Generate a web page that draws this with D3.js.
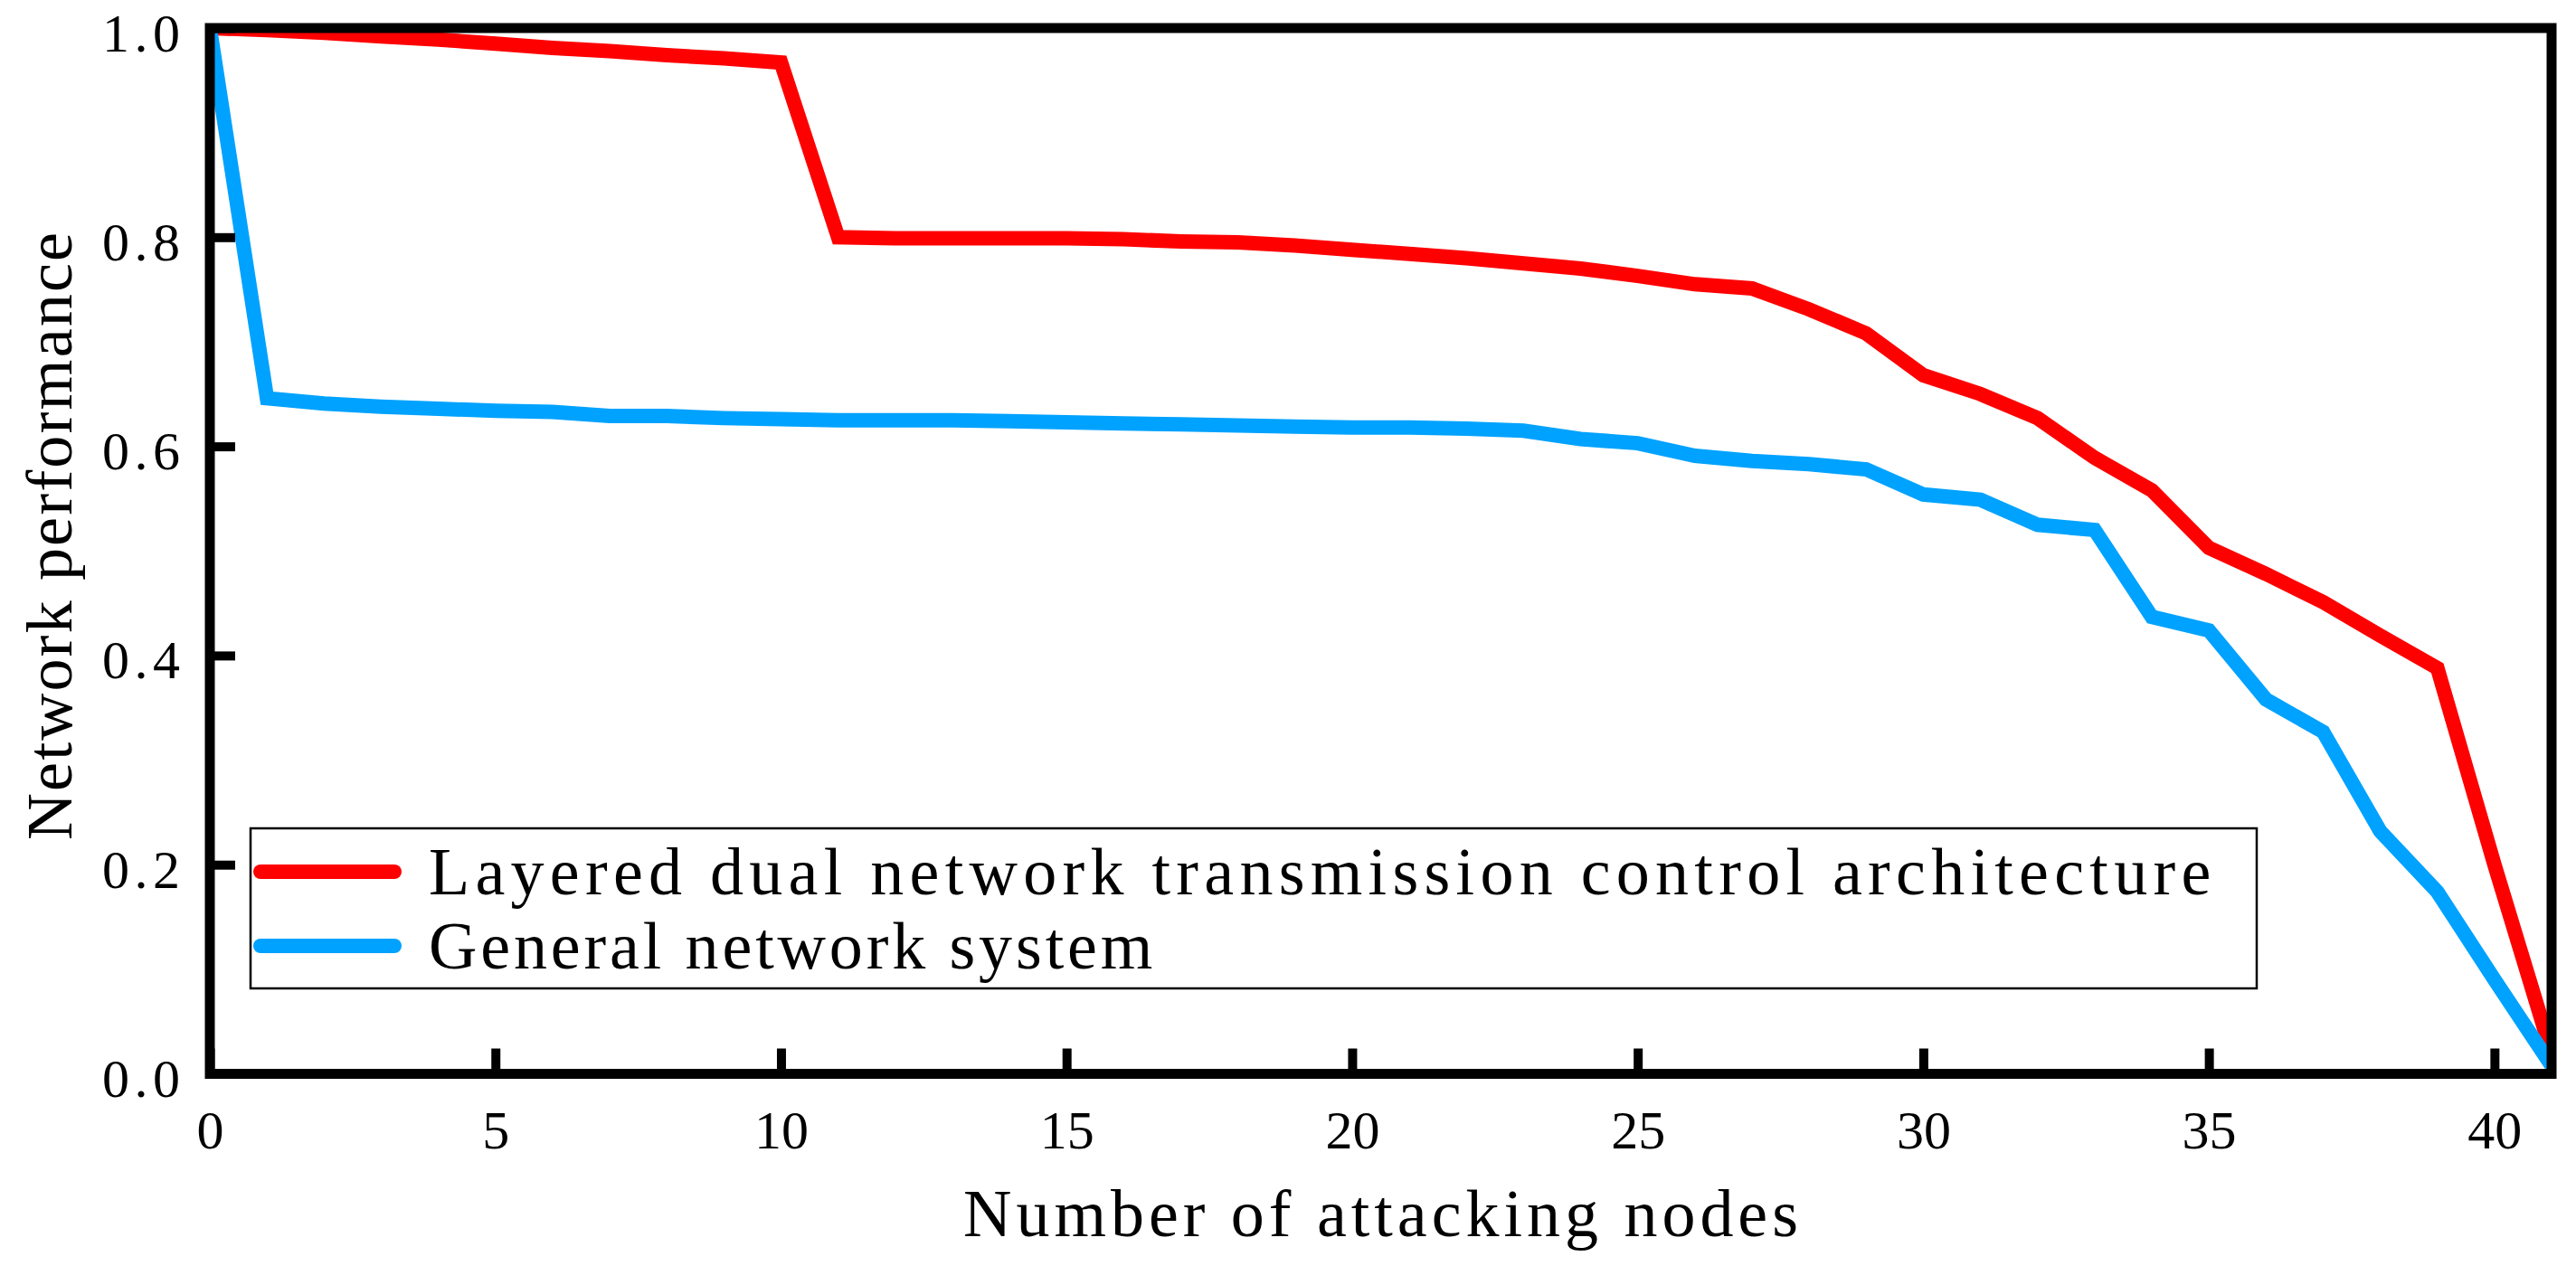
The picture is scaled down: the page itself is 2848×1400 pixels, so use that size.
<!DOCTYPE html>
<html>
<head>
<meta charset="utf-8">
<script src="https://cdn.jsdelivr.net/npm/d3@7"></script>
<style>
  body { margin: 0; background: #fff; }
  text { font-family: "Liberation Serif", "Times New Roman", serif; fill: #000; }
</style>
</head>
<body>
<div id="graf"></div>
<script>
// Datos
const nodos = d3.range(0, 42)
const layered = [1.0, 0.998, 0.9955, 0.992, 0.989, 0.985, 0.981, 0.978, 0.974, 0.971, 0.967,
  0.800, 0.799, 0.799, 0.799, 0.799, 0.798, 0.796, 0.795, 0.792, 0.788,
  0.784, 0.780, 0.775, 0.770, 0.763, 0.755, 0.751, 0.731, 0.708, 0.668,
  0.650, 0.627, 0.589, 0.558, 0.503, 0.478, 0.451, 0.419, 0.388, 0.200, 0.02]
const general = [1.0, 0.646, 0.641, 0.638, 0.636, 0.634, 0.633, 0.629, 0.629, 0.627, 0.626,
  0.625, 0.625, 0.625, 0.624, 0.623, 0.622, 0.621, 0.620, 0.619, 0.618,
  0.618, 0.617, 0.615, 0.607, 0.603, 0.591, 0.586, 0.583, 0.578, 0.554,
  0.549, 0.525, 0.520, 0.437, 0.424, 0.358, 0.327, 0.232, 0.174, 0.090, 0.008]
const series = [
  { nombre: "Layered dual network transmission control architecture", valores: layered, color: "#ff0000" },
  { nombre: "General network system", valores: general, color: "#00a2ff" },
]
const xTicks = [0, 5, 10, 15, 20, 25, 30, 35, 40]
const yTicks = [0, 0.2, 0.4, 0.6, 0.8, 1.0]

// Dimensiones
const anchoTotal = 2848
const altoTotal = 1400
const margins = { top: 31, right: 27, bottom: 212.5, left: 232 }
const ancho = anchoTotal - margins.left - margins.right
const alto = altoTotal - margins.top - margins.bottom

const svg = d3
  .select("#graf")
  .append("svg")
  .attr("width", anchoTotal)
  .attr("height", altoTotal)

svg.append("rect").attr("width", anchoTotal).attr("height", altoTotal).attr("fill", "#fff")

const g = svg.append("g").attr("transform", `translate(${margins.left}, ${margins.top})`)

// Escaladores
const x = d3.scaleLinear().domain([0, 41]).range([0, ancho])
const y = d3.scaleLinear().domain([0, 1]).range([alto, 0])

// Clip del area de dibujo
svg.append("defs")
  .append("clipPath")
  .attr("id", "area")
  .append("rect")
  .attr("width", ancho)
  .attr("height", alto)

// Lineas
const linea = d3
  .line()
  .x((d, i) => x(nodos[i]))
  .y((d) => y(d))

g.append("g")
  .attr("clip-path", "url(#area)")
  .selectAll("path")
  .data(series)
  .enter()
  .append("path")
  .attr("d", (d) => linea(d.valores))
  .attr("fill", "none")
  .attr("stroke", (d) => d.color)
  .attr("stroke-width", 16)

// Ejes
const xAxis = d3.axisBottom(x).tickValues(xTicks).tickSize(-28).tickFormat(d3.format("d"))
const yAxis = d3.axisLeft(y).tickValues(yTicks).tickSize(-28).tickFormat(d3.format(".1f"))

const xAxisGroup = g.append("g").attr("transform", `translate(0, ${alto})`).call(xAxis)
const yAxisGroup = g.append("g").call(yAxis)

xAxisGroup.selectAll(".domain").remove()
yAxisGroup.selectAll(".domain").remove()

xAxisGroup.selectAll(".tick line").attr("stroke", "#000").attr("stroke-width", 10)
yAxisGroup.selectAll(".tick line").attr("stroke", "#000").attr("stroke-width", 10)

xAxisGroup
  .selectAll("text")
  .attr("y", 82.5)
  .attr("dy", 0)
  .style("font-size", "60px")
  .style("font-family", "Liberation Serif")

yAxisGroup
  .selectAll("text")
  .attr("x", -33)
  .attr("dy", 0)
  .attr("y", 25)
  .attr("textLength", 86)
  .attr("lengthAdjust", "spacing")
  .style("font-size", "60px")
  .style("font-family", "Liberation Serif")

// Marco
g.append("rect")
  .attr("width", ancho)
  .attr("height", alto)
  .attr("fill", "none")
  .attr("stroke", "#000")
  .attr("stroke-width", 11)

// Titulos de ejes
svg
  .append("text")
  .attr("x", margins.left + ancho / 2)
  .attr("y", 1367)
  .attr("text-anchor", "middle")
  .attr("textLength", 923)
  .attr("lengthAdjust", "spacing")
  .style("font-size", "74px")
  .text("Number of attacking nodes")

svg
  .append("text")
  .attr("transform", "translate(79, 593) rotate(-90)")
  .attr("text-anchor", "middle")
  .attr("textLength", 672)
  .attr("lengthAdjust", "spacing")
  .style("font-size", "72px")
  .text("Network performance")

// Leyenda
const leyenda = svg.append("g")

leyenda
  .append("rect")
  .attr("x", 277)
  .attr("y", 916)
  .attr("width", 2495 - 277)
  .attr("height", 1093 - 916)
  .attr("fill", "#fff")
  .attr("stroke", "#000")
  .attr("stroke-width", 2.5)

const item = leyenda
  .selectAll(".item")
  .data(series)
  .enter()
  .append("g")
  .attr("class", "item")
  .attr("transform", (d, i) => `translate(0, ${964 + i * 82})`)

item
  .append("line")
  .attr("x1", 288)
  .attr("x2", 436)
  .attr("stroke", (d) => d.color)
  .attr("stroke-width", 16)
  .attr("stroke-linecap", "round")

item
  .append("text")
  .attr("x", 474)
  .attr("y", 24.5)
  .attr("textLength", (d) => d.nombre.length * 36.56 - 4)
  .attr("lengthAdjust", "spacing")
  .style("font-size", "74px")
  .text((d) => d.nombre)
</script>
</body>
</html>
